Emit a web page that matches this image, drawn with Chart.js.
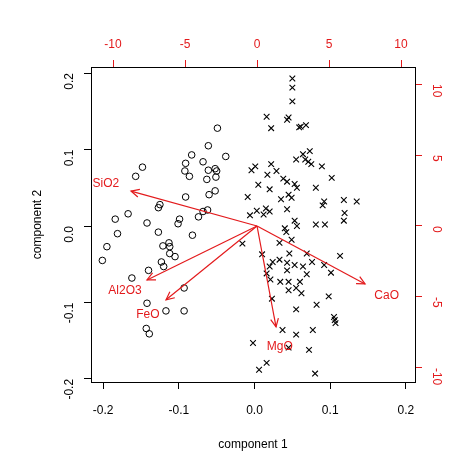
<!DOCTYPE html>
<html><head><meta charset="utf-8">
<script src="https://cdn.jsdelivr.net/npm/chart.js@4/dist/chart.umd.min.js"></script>
<style>html,body{margin:0;padding:0;background:#fff}#c{width:474px;height:474px;display:block}</style>
</head><body><canvas id="c" width="474" height="474"></canvas>
<script>
const circlePts = [[-0.049,0.128],[-0.061,0.105],[-0.083,0.093],[-0.038,0.091],[-0.068,0.084],[-0.091,0.082],[-0.148,0.077],[-0.061,0.073],[-0.052,0.075],[-0.050,0.072],[-0.092,0.072],[-0.086,0.065],[-0.157,0.065],[-0.063,0.061],[-0.051,0.064],[-0.052,0.046],[-0.060,0.041],[-0.091,0.038],[-0.125,0.028],[-0.127,0.024],[-0.062,0.021],[-0.068,0.019],[-0.167,0.016],[-0.184,0.009],[-0.074,0.012],[-0.099,0.009],[-0.142,0.004],[-0.101,0.003],[-0.127,-0.008],[-0.181,-0.010],[-0.082,-0.012],[-0.113,-0.022],[-0.121,-0.026],[-0.112,-0.027],[-0.195,-0.027],[-0.112,-0.036],[-0.105,-0.040],[-0.201,-0.045],[-0.123,-0.047],[-0.120,-0.053],[-0.140,-0.058],[-0.162,-0.068],[-0.093,-0.081],[-0.142,-0.101],[-0.117,-0.111],[-0.093,-0.111],[-0.143,-0.134],[-0.139,-0.141]];
const crossPts = [[-0.004,0.073],[0.001,0.078],[0.005,0.054],[-0.009,0.038],[-0.006,0.014],[0.003,0.020],[-0.016,-0.023],[-0.002,-0.153],[0.050,0.193],[0.050,0.181],[0.050,0.163],[0.016,0.143],[0.022,0.128],[0.043,0.139],[0.045,0.142],[0.059,0.129],[0.061,0.130],[0.068,0.132],[0.073,0.098],[0.064,0.094],[0.055,0.087],[0.067,0.087],[0.071,0.084],[0.075,0.081],[0.089,0.078],[0.102,0.063],[0.022,0.081],[0.017,0.067],[0.029,0.072],[0.038,0.062],[0.043,0.058],[0.053,0.055],[0.056,0.050],[0.020,0.048],[0.081,0.050],[0.035,0.035],[0.045,0.041],[0.049,0.037],[0.092,0.032],[0.090,0.027],[0.118,0.034],[0.135,0.032],[0.012,0.015],[0.015,0.023],[0.020,0.019],[0.043,0.022],[0.053,0.007],[0.119,0.017],[0.118,0.007],[0.081,0.002],[0.093,0.002],[0.040,-0.003],[0.042,-0.008],[0.056,0.000],[0.033,-0.022],[0.049,-0.018],[0.010,-0.037],[0.046,-0.036],[0.024,-0.047],[0.033,-0.044],[0.020,-0.053],[0.043,-0.048],[0.053,-0.051],[0.064,-0.053],[0.069,-0.036],[0.076,-0.047],[0.092,-0.051],[0.101,-0.061],[0.113,-0.039],[0.043,-0.058],[0.069,-0.063],[0.016,-0.062],[0.021,-0.070],[0.034,-0.073],[0.045,-0.073],[0.060,-0.073],[0.045,-0.084],[0.055,-0.081],[0.062,-0.088],[0.023,-0.095],[0.098,-0.092],[0.055,-0.109],[0.082,-0.103],[0.105,-0.119],[0.106,-0.123],[0.107,-0.127],[0.037,-0.136],[0.055,-0.142],[0.077,-0.136],[0.045,-0.159],[0.072,-0.162],[0.016,-0.179],[0.006,-0.188],[0.080,-0.193]];
const varNames = ["SiO2","Al2O3","FeO","MgO","CaO"];
const loadX = [-8.75,-7.64,-6.32,1.32,7.5];
const loadY = [2.46,-3.8,-5.2,-7.1,-4.08];
const xTicks = [-0.2,-0.1,0.0,0.1,0.2];
const yTicks = [-0.2,-0.1,0.0,0.1,0.2];
const x2Ticks = [-10,-5,0,5,10];
const y2Ticks = [-10,-5,0,5,10];
const RED = '#e31a1c';
const FONT = {family:'Liberation Sans, Arial, sans-serif', size:12};

function fixTicks(arr){return s=>{s.ticks=arr.map(v=>({value:v}));};}
function fixSize(w,h){return s=>{if(w!=null)s.width=w;if(h!=null)s.height=h;};}

const arrows = {
  id:'arrows',
  afterDatasetsDraw(chart){
    const ctx=chart.ctx, sx=chart.scales.x2, sy=chart.scales.y2;
    const ox=sx.getPixelForValue(0), oy=sy.getPixelForValue(0);
    ctx.save();
    ctx.strokeStyle=RED; ctx.fillStyle=RED; ctx.lineWidth=1.2;
    ctx.font='12px Liberation Sans, Arial, sans-serif';
    ctx.textAlign='center'; ctx.textBaseline='middle';
    for(let i=0;i<varNames.length;i++){
      const tx=sx.getPixelForValue(loadX[i]), ty=sy.getPixelForValue(loadY[i]);
      ctx.beginPath(); ctx.moveTo(ox,oy); ctx.lineTo(tx,ty); ctx.stroke();
      const a=Math.atan2(ty-oy,tx-ox), L=9, w=0.45;
      ctx.beginPath();
      ctx.moveTo(tx-L*Math.cos(a-w),ty-L*Math.sin(a-w));
      ctx.lineTo(tx,ty);
      ctx.lineTo(tx-L*Math.cos(a+w),ty-L*Math.sin(a+w));
      ctx.stroke();
      ctx.fillText(varNames[i], sx.getPixelForValue(loadX[i]*1.2), sy.getPixelForValue(loadY[i]*1.2));
    }
    ctx.restore();
  }
};

new Chart(document.getElementById('c'),{
  type:'scatter',
  data:{datasets:[
    {data:circlePts.map(p=>({x:p[0],y:p[1]})),pointStyle:'circle',radius:3.3,borderColor:'#000',backgroundColor:'rgba(0,0,0,0)',borderWidth:1,xAxisID:'x',yAxisID:'y'},
    {data:crossPts.map(p=>({x:p[0],y:p[1]})),pointStyle:'crossRot',radius:4,borderColor:'#000',borderWidth:1.1,xAxisID:'x',yAxisID:'y'}
  ]},
  options:{
    responsive:false,animation:false,devicePixelRatio:1,
    layout:{padding:{left:26,bottom:18,top:0,right:0}},
    plugins:{legend:{display:false},tooltip:{enabled:false}},
    elements:{point:{hoverRadius:3}},
    scales:{
      x:{type:'linear',position:'bottom',min:-0.216,max:0.212,afterBuildTicks:fixTicks(xTicks),afterFit:fixSize(null,74),
        grid:{drawOnChartArea:false,tickLength:7,color:'#000'},border:{color:'#000'},
        ticks:{color:'#000',font:FONT,padding:14,callback:v=>v===0?'0.0':String(v)},
        title:{display:true,text:'component 1',color:'#000',font:FONT,padding:{top:20}}},
      y:{type:'linear',position:'left',min:-0.204,max:0.208,afterBuildTicks:fixTicks(yTicks),afterFit:fixSize(65,null),
        grid:{drawOnChartArea:false,tickLength:7,color:'#000'},border:{color:'#000'},
        ticks:{color:'#000',font:FONT,padding:14,minRotation:90,maxRotation:90,callback:v=>v===0?'0.0':String(v)},
        title:{display:true,text:'component 2',color:'#000',font:FONT,padding:{bottom:14}}},
      x2:{type:'linear',position:'top',min:-11.53,max:10.97,afterBuildTicks:fixTicks(x2Ticks),afterFit:fixSize(null,67),
        grid:{drawOnChartArea:false,tickLength:7,color:RED},border:{color:'#000'},
        ticks:{color:RED,font:FONT,padding:8}},
      y2:{type:'linear',position:'right',min:-10.99,max:11.2,afterBuildTicks:fixTicks(y2Ticks),afterFit:fixSize(59,null),
        grid:{drawOnChartArea:false,tickLength:7,color:RED},border:{color:'#000'},
        ticks:{color:RED,font:FONT,padding:14,minRotation:-90,maxRotation:-90}}
    }
  },
  plugins:[arrows]
});
</script></body></html>
